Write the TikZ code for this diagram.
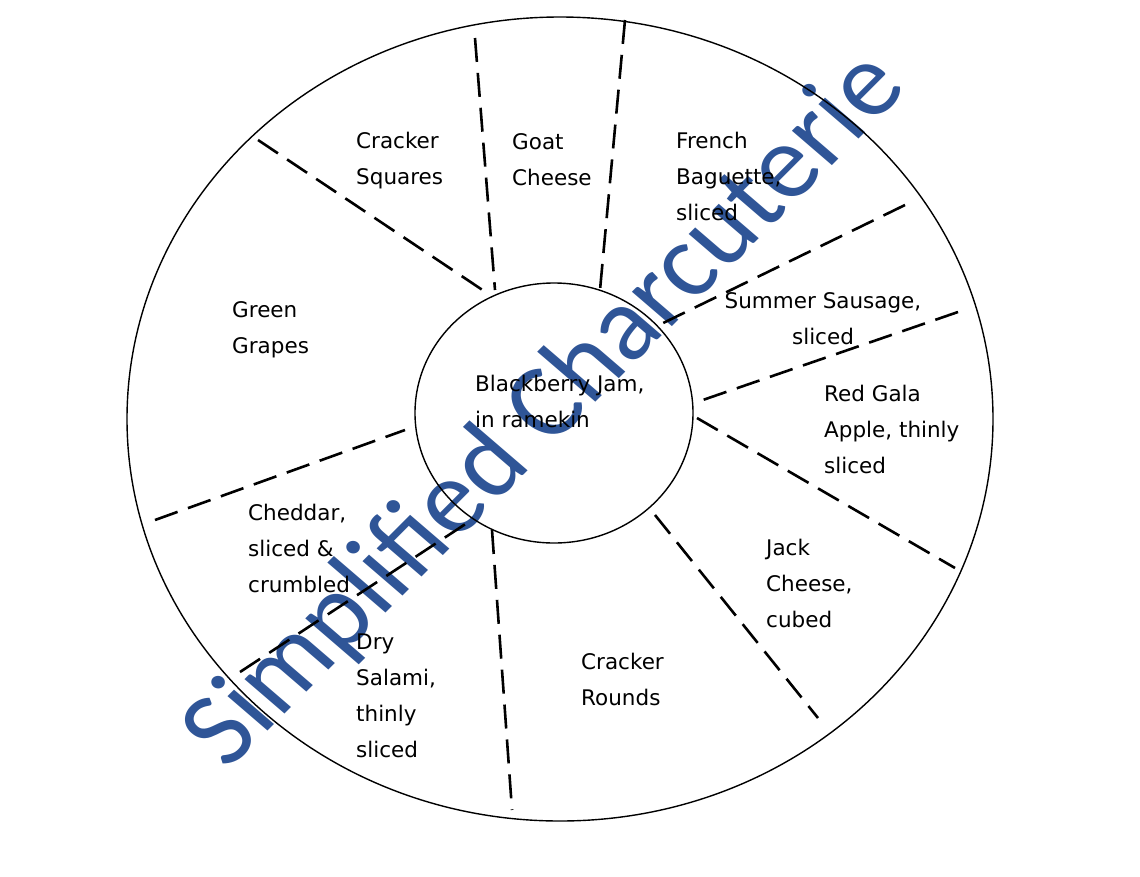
\documentclass[tikz,border=0pt]{standalone}
\usepackage{fontspec}
\setmainfont{DejaVu Sans}
\newfontfamily\wmfont{Carlito}
\definecolor{wmblue}{HTML}{2F5597}
\begin{document}
\begin{tikzpicture}[x=1pt,y=-1pt,
  rim/.style={line width=1.4pt},
  divider/.style={line width=2.6pt, dash pattern=on 24pt off 11pt},
  lbl/.style={font=\fontsize{21.5}{36}\selectfont, align=left, anchor=base west, inner sep=0pt},
  wmark/.style={font=\wmfont\fontsize{106}{106}\selectfont, text=wmblue, inner sep=0pt}]
\useasboundingbox (0,0) rectangle (1140,876);
\begin{scope}[shift={(546,411)}, xscale=1.077]
  \node[wmark, transform shape, rotate=47.2, xscale=0.98] (title) at (0,0) {Simplified Charcuterie};
\end{scope}
% rims
\draw[rim] (560,419) ellipse [x radius=433, y radius=402];
\draw[rim] (554,413) ellipse [x radius=139, y radius=130];
% dividers
\coordinate (a1) at (258,140); \coordinate (a2) at (490,295);
\coordinate (b1) at (475,38);  \coordinate (b2) at (495,290);
\coordinate (c1) at (625,20);  \coordinate (c2) at (600,290);
\coordinate (d1) at (905,205); \coordinate (d2) at (655,327);
\coordinate (e1) at (958,312); \coordinate (e2) at (697,402);
\coordinate (f1) at (697,418); \coordinate (f2) at (955,568);
\coordinate (g1) at (655,515); \coordinate (g2) at (818,718);
\coordinate (h1) at (492,530); \coordinate (h2) at (512,810);
\coordinate (i1) at (155,520); \coordinate (i2) at (405,430);
\coordinate (j1) at (240,672); \coordinate (j2) at (467,523);
\draw[divider] (a1) -- (a2);
\draw[divider] (b1) -- (b2);
\draw[divider] (c1) -- (c2);
\draw[divider] (d1) -- (d2);
\draw[divider] (e1) -- (e2);
\draw[divider] (f1) -- (f2);
\draw[divider] (g1) -- (g2);
\draw[divider] (h1) -- (h2);
\draw[divider] (i1) -- (i2);
\draw[divider] (j1) -- (j2);
% labels (anchor = baseline of last line)
\node[lbl] (l1) at (356,184) {Cracker\\Squares};
\node[lbl] (l2) at (512,185) {Goat\\Cheese};
\node[lbl] (l3) at (676,220) {French\\Baguette,\\sliced};
\node[lbl, align=center, anchor=base] (l4) at (823,344) {Summer Sausage,\\sliced};
\node[lbl] (l5) at (824,473) {Red Gala\\Apple, thinly\\sliced};
\node[lbl] (l6) at (766,627) {Jack\\Cheese,\\cubed};
\node[lbl] (l7) at (581,705) {Cracker\\Rounds};
\node[lbl] (l8) at (356,757) {Dry\\Salami,\\thinly\\sliced};
\node[lbl] (l9) at (248,592) {Cheddar,\\sliced \&\\crumbled};
\node[lbl] (l10) at (232,353) {Green\\Grapes};
\node[lbl] (l11) at (475,427) {Blackberry Jam,\\in ramekin};
\end{tikzpicture}
\end{document}
